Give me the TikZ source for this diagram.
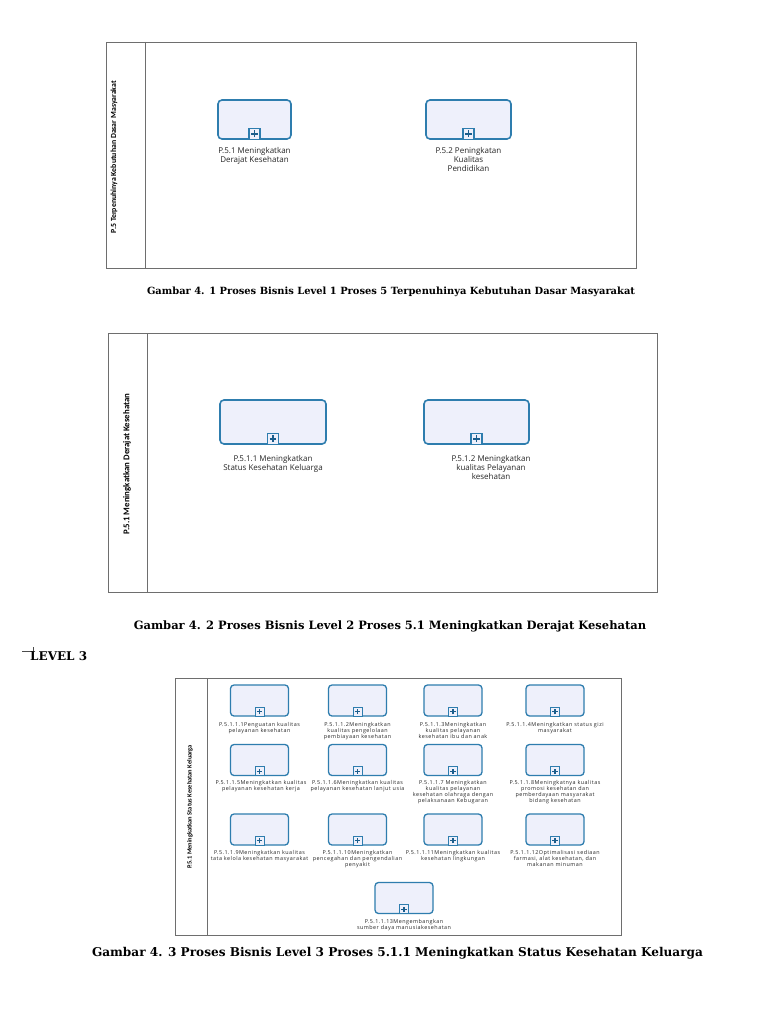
\documentclass[tikz,border=0pt]{standalone}
\usepackage{fontspec}
\setmainfont{DejaVu Serif}
\newfontfamily\lblfont{Open Sans}
\newfontfamily\slblfont[LetterSpace=9]{Open Sans}
\newfontfamily\vlfont{Carlito}
\definecolor{bpmnblue}{HTML}{2E7DAE}
\definecolor{bpmnfill}{HTML}{EEF0FB}
\definecolor{plusblue}{HTML}{1B5E8C}
\definecolor{framegray}{HTML}{6E6E6E}
\begin{document}
\begin{tikzpicture}[x=1pt,y=-1pt,
  frame/.style={draw=framegray, line width=0.9pt, inner sep=0, anchor=north west},
  divider/.style={draw=framegray, line width=0.9pt},
  task/.style={draw=bpmnblue, fill=bpmnfill, rounded corners=4pt, line width=1.6pt, inner sep=0},
  stask/.style={task, minimum width=58, minimum height=31, rounded corners=3.5pt, line width=1.3pt},
  mk/.style={draw=bpmnblue, fill=bpmnfill, line width=1.1pt, minimum size=11, inner sep=0, anchor=south,
    path picture={
      \draw[plusblue, line width=1.7pt] ([xshift=-3.3pt]path picture bounding box.center) -- ([xshift=3.3pt]path picture bounding box.center);
      \draw[plusblue, line width=1.7pt] ([yshift=-3.3pt]path picture bounding box.center) -- ([yshift=3.3pt]path picture bounding box.center);}},
  smk/.style={mk, minimum size=9, line width=0.9pt,
    path picture={
      \draw[plusblue, line width=1.3pt] ([xshift=-2.6pt]path picture bounding box.center) -- ([xshift=2.6pt]path picture bounding box.center);
      \draw[plusblue, line width=1.3pt] ([yshift=-2.6pt]path picture bounding box.center) -- ([yshift=2.6pt]path picture bounding box.center);}},
  lab/.style={anchor=north, align=center, inner sep=0, text=black!85, font=\lblfont\fontsize{8}{9}\selectfont},
  slab/.style={anchor=north, align=center, inner sep=0, text=black!85, font=\slblfont\fontsize{5.4}{6.1}\selectfont},
  vl/.style={rotate=90, inner sep=0, font=\vlfont\bfseries},
  capt/.style={inner sep=0, font=\bfseries}
]
\useasboundingbox (0,0) rectangle (768,1024);
\fill[white] (0,0) rectangle (768,1024);

% ---------- Diagram 1 ----------
\node[frame, minimum width=530, minimum height=226] (f1) at (106,42) {};
\draw[divider] (145,42) -- (145,268);
\node[vl, font=\vlfont\bfseries\fontsize{7.8}{9}\selectfont] (v1) at (114,157) {P.5 Terpenuhinya Kebutuhan Dasar Masyarakat};
\node[task, minimum width=73, minimum height=39] (t11) at (254.5,119.5) {};
\node[mk] (m11) at (t11.south) {};
\node[lab] (l11) at (254.5,147) {P.5.1 Meningkatkan\\Derajat Kesehatan};
\node[task, minimum width=85, minimum height=39] (t12) at (468.5,119.5) {};
\node[mk] (m12) at (t12.south) {};
\node[lab] (l12) at (468.5,147) {P.5.2 Peningkatan\\Kualitas\\Pendidikan};
\node[capt, font=\bfseries\fontsize{9.9}{11}\selectfont] (c1) at (391,292) {Gambar 4. 1 Proses Bisnis Level 1 Proses 5 Terpenuhinya Kebutuhan Dasar Masyarakat};

% ---------- Diagram 2 ----------
\node[frame, minimum width=549, minimum height=259] (f2) at (108,333) {};
\draw[divider] (147,333) -- (147,592);
\node[vl, font=\vlfont\bfseries\fontsize{8.8}{10}\selectfont] (v2) at (127,464) {P.5.1 Meningkatkan Derajat Kesehatan};
\node[task, minimum width=106, minimum height=44] (t21) at (273,422) {};
\node[mk] (m21) at (t21.south) {};
\node[lab] (l21) at (273,455) {P.5.1.1 Meningkatkan\\Status Kesehatan Keluarga};
\node[task, minimum width=105, minimum height=44] (t22) at (476.5,422) {};
\node[mk] (m22) at (t22.south) {};
\node[lab] (l22) at (491,455) {P.5.1.2 Meningkatkan\\kualitas Pelayanan\\kesehatan};
\node[capt, font=\bfseries\fontsize{11.5}{13}\selectfont] (c2) at (390,626) {Gambar 4. 2 Proses Bisnis Level 2 Proses 5.1 Meningkatkan Derajat Kesehatan};

% ---------- Level 3 heading ----------
\coordinate (hk1) at (22,651);
\coordinate (hk2) at (33,651);
\coordinate (hk3) at (33,647);
\draw[black!70, line width=0.6pt] (hk1) -- (hk2) -- (hk3);
\node[capt, anchor=west, font=\bfseries\fontsize{12}{13}\selectfont] (lv3) at (30,656) {LEVEL 3};

% ---------- Diagram 3 ----------
\node[frame, minimum width=446, minimum height=257] (f3) at (175,678) {};
\draw[divider] (207,678) -- (207,935);
\node[vl, font=\vlfont\bfseries\fontsize{6.4}{7}\selectfont] (v3) at (190,807) {P.5.1 Meningkatkan Status Kesehatan Keluarga};

% row 1
\node[stask] (a1) at (259.5,700.5) {}; \node[smk] (ma1) at (a1.south) {};
\node[slab] (la1) at (259.5,722) {P.5.1.1.1Penguatan kualitas\\pelayanan kesehatan};
\node[stask] (a2) at (357.5,700.5) {}; \node[smk] (ma2) at (a2.south) {};
\node[slab] (la2) at (357.5,722) {P.5.1.1.2Meningkatkan\\kualitas pengelolaan\\pembiayaan kesehatan};
\node[stask] (a3) at (453,700.5) {}; \node[smk] (ma3) at (a3.south) {};
\node[slab] (la3) at (453,722) {P.5.1.1.3Meningkatkan\\kualitas pelayanan\\kesehatan ibu dan anak};
\node[stask] (a4) at (555,700.5) {}; \node[smk] (ma4) at (a4.south) {};
\node[slab] (la4) at (555,722) {P.5.1.1.4Meningkatkan status gizi\\masyarakat};
% row 2
\node[stask] (b1) at (259.5,760) {}; \node[smk] (mb1) at (b1.south) {};
\node[slab] (lb1) at (261,780) {P.5.1.1.5Meningkatkan kualitas\\pelayanan kesehatan kerja};
\node[stask] (b2) at (357.5,760) {}; \node[smk] (mb2) at (b2.south) {};
\node[slab] (lb2) at (357.5,780) {P.5.1.1.6Meningkatkan kualitas\\pelayanan kesehatan lanjut usia};
\node[stask] (b3) at (453,760) {}; \node[smk] (mb3) at (b3.south) {};
\node[slab] (lb3) at (453,780) {P.5.1.1.7 Meningkatkan\\kualitas pelayanan\\kesehatan olahraga dengan\\pelaksanaan Kebugaran};
\node[stask] (b4) at (555,760) {}; \node[smk] (mb4) at (b4.south) {};
\node[slab] (lb4) at (555,780) {P.5.1.1.8Meningkatnya kualitas\\promosi kesehatan dan\\pemberdayaan masyarakat\\bidang kesehatan};
% row 3
\node[stask] (c31) at (259.5,829.5) {}; \node[smk] (mc1) at (c31.south) {};
\node[slab] (lc1) at (259.5,850) {P.5.1.1.9Meningkatkan kualitas\\tata kelola kesehatan masyarakat};
\node[stask] (c32) at (357.5,829.5) {}; \node[smk] (mc2) at (c32.south) {};
\node[slab] (lc2) at (357.5,850) {P.5.1.1.10Meningkatkan\\pencegahan dan pengendalian\\penyakit};
\node[stask] (c33) at (453,829.5) {}; \node[smk] (mc3) at (c33.south) {};
\node[slab] (lc3) at (453,850) {P.5.1.1.11Meningkatkan kualitas\\kesehatan lingkungan};
\node[stask] (c34) at (555,829.5) {}; \node[smk] (mc4) at (c34.south) {};
\node[slab] (lc4) at (555,850) {P.5.1.1.12Optimalisasi sediaan\\farmasi, alat kesehatan, dan\\makanan minuman};
% row 4
\node[stask] (d1) at (404,898) {}; \node[smk] (md1) at (d1.south) {};
\node[slab] (ld1) at (404,919) {P.5.1.1.13Mengembangkan\\sumber daya manusiakesehatan};

\node[capt, font=\bfseries\fontsize{12.1}{13}\selectfont] (c3) at (397.5,953) {Gambar 4. 3 Proses Bisnis Level 3 Proses 5.1.1 Meningkatkan Status Kesehatan Keluarga};
\end{tikzpicture}
\end{document}
